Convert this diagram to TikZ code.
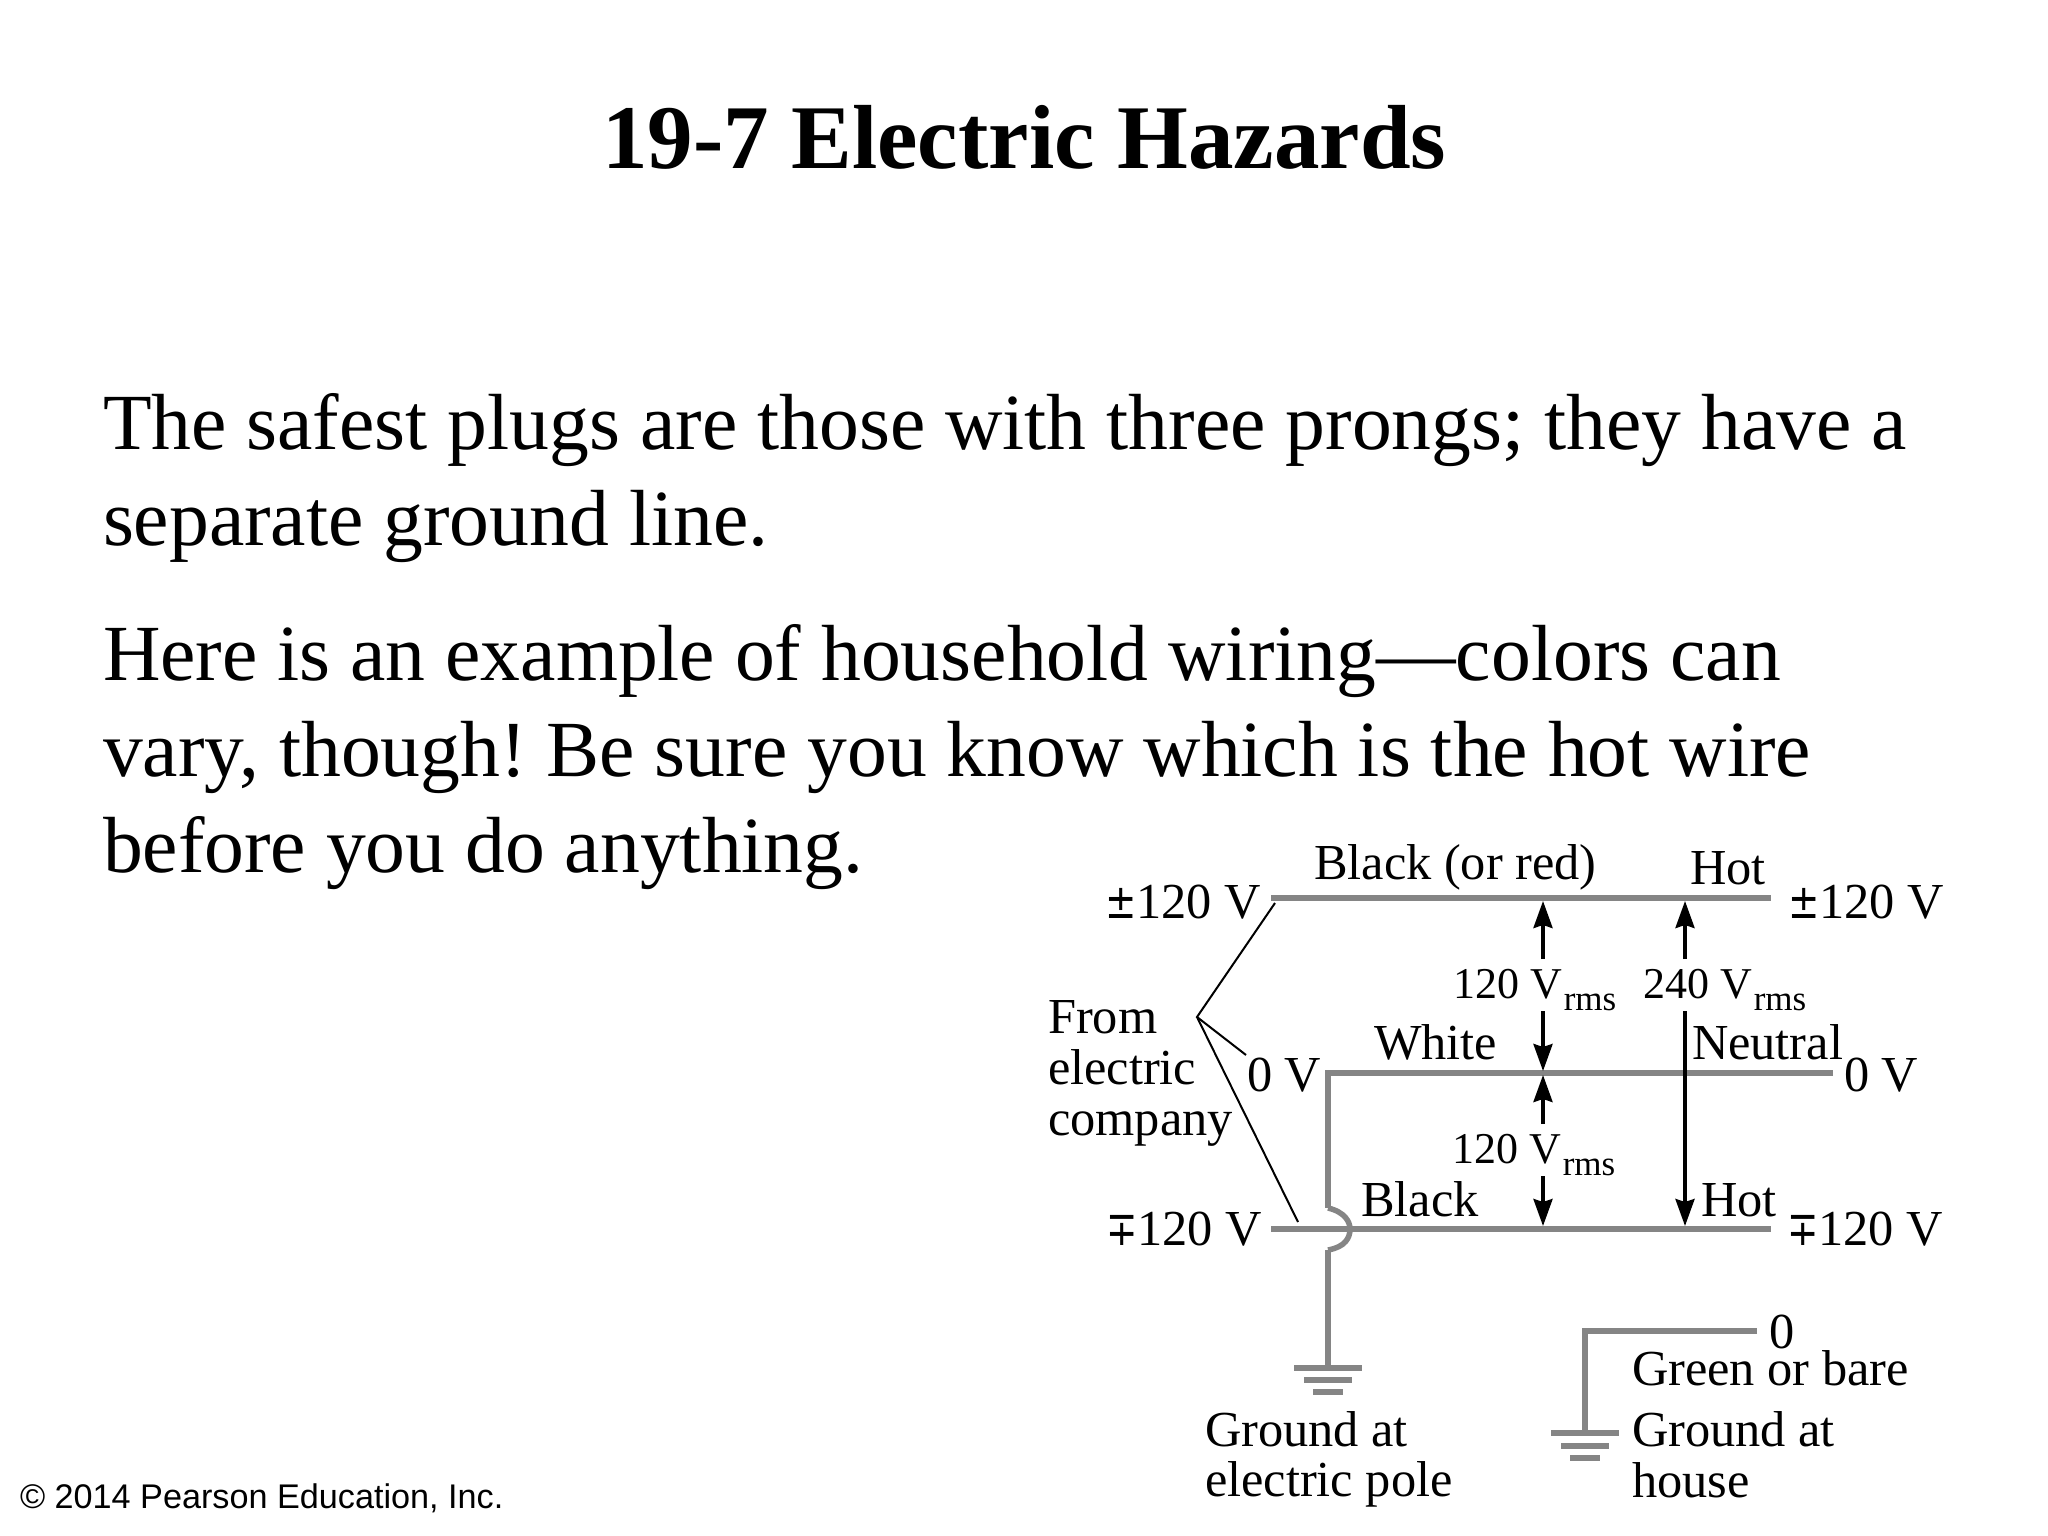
\documentclass[tikz,border=0pt]{standalone}
\usepackage{fontspec}
\setmainfont{Liberation Serif}
\newfontfamily\footfont{Liberation Sans}
\newfontfamily\signfont{DejaVu Sans}
\usetikzlibrary{arrows.meta}
\definecolor{wiregray}{HTML}{858585}
\newcommand{\vrms}[1]{{\fontsize{44}{48}\selectfont #1 V}\kern2pt\raisebox{-12pt}{\fontsize{35}{35}\selectfont rms}}
\newcommand{\sgn}[1]{\scalebox{0.78}[1]{\fontsize{48}{50}\selectfont\signfont #1}}
\tikzset{
  x=1pt,y=-1pt,
  txt/.style={anchor=base west,inner sep=0pt,outer sep=0pt},
  titletxt/.style={txt,font=\fontsize{91}{100}\selectfont\bfseries},
  bodytxt/.style={txt,font=\frenchspacing\fontsize{79.6}{90}\selectfont},
  lab/.style={txt,font=\fontsize{50.4}{55}\selectfont},
  foot/.style={txt,font=\fontsize{34.2}{36}\selectfont\footfont},
  wire/.style={draw=wiregray,line width=6pt,line cap=butt},
  thinwire/.style={draw=wiregray,line width=5.5pt},
  feed/.style={draw=black,line width=2pt},
  volt/.style={draw=black,line width=3.5pt,-{Stealth[length=27pt,width=19pt,inset=3pt]}},
}
\begin{document}
\begin{tikzpicture}
\path[use as bounding box,fill=white] (0,0) rectangle (2048,1536);
% text
\node[titletxt] (title) at (602,168) {19-7 Electric Hazards};
\node[bodytxt] (b1) at (103,449) {The safest plugs are those with three prongs; they have a};
\node[bodytxt] (b2) at (103,545) {separate ground line.};
\node[bodytxt] (b3) at (103,680) {Here is an example of household wiring—colors can};
\node[bodytxt] (b4) at (103,776) {vary, though! Be sure you know which is the hot wire};
\node[bodytxt] (b5) at (103,872) {before you do anything.};
\node[foot] (copy) at (20,1508) {© 2014 Pearson Education, Inc.};
% diagram labels
\node[lab] (tl) at (1105,918) {\sgn{±}120 V};
\node[lab] (tr) at (1788,918) {\sgn{±}120 V};
\node[lab] (blackred) at (1314,879) {Black (or red)};
\node[lab] (hot1) at (1690,884) {Hot};
\node[lab] (v1) at (1453,998) {\vrms{120}};
\node[lab] (v2) at (1643,998) {\vrms{240}};
\node[lab] (from) at (1048,1033) {From};
\node[lab] (elec) at (1048,1084) {electric};
\node[lab] (comp) at (1048,1135) {company};
\node[lab] (zl) at (1247,1091) {0 V};
\node[lab] (zr) at (1844,1091) {0 V};
\node[lab] (white) at (1374,1059) {White};
\node[lab] (neutral) at (1692,1059) {Neutral};
\node[lab] (v3) at (1452,1163) {\vrms{120}};
\node[lab] (black2) at (1361,1216) {Black};
\node[lab] (hot2) at (1701,1216) {Hot};
\node[lab] (bl) at (1106,1245) {\sgn{∓}120 V};
\node[lab] (br) at (1787,1245) {\sgn{∓}120 V};
\node[lab] (zero) at (1769,1348) {0};
\node[lab] (green) at (1632,1385) {Green or bare};
\node[lab] (gh1) at (1632,1446) {Ground at};
\node[lab] (gh2) at (1632,1497) {house};
\node[lab] (gp1) at (1205,1446) {Ground at};
\node[lab] (gp2) at (1205,1496) {electric pole};
% wires
\coordinate (t1) at (1271,898); \coordinate (t2) at (1771,898);
\coordinate (m1) at (1328,1073); \coordinate (m2) at (1833,1073);
\coordinate (l1) at (1271,1229); \coordinate (l2) at (1771,1229);
\coordinate (j1) at (1328,1208); \coordinate (j2) at (1328,1250);
\coordinate (g1) at (1328,1368);
\coordinate (h1) at (1757,1331); \coordinate (h2) at (1585,1331); \coordinate (h3) at (1585,1433);
\draw[wire] (t1) -- (t2);
\draw[wire] (l1) -- (l2);
\draw[wire,line join=miter] (m2) -- (m1) -- (j1);
\draw[thinwire] (j1) .. controls (1345,1212) and (1350,1222) .. (1350,1229) .. controls (1350,1238) and (1345,1247) .. (j2);
\draw[wire] (j2) -- (g1);
\draw[wire,line join=miter] (h1) -- (h2) -- (h3);
% ground symbols
\draw[wire] (1294,1368) -- (1362,1368);
\draw[wire] (1304,1380) -- (1352,1380);
\draw[wire] (1313,1392) -- (1343,1392);
\draw[wire] (1551,1433) -- (1619,1433);
\draw[wire] (1561,1446) -- (1609,1446);
\draw[wire] (1570,1458) -- (1600,1458);
% feed lines
\coordinate (apex) at (1197,1017);
\coordinate (f1) at (1275,903); \coordinate (f2) at (1246,1055); \coordinate (f3) at (1298,1222);
\draw[feed,line join=miter] (f1) -- (apex) -- (f2);
\draw[feed] (apex) -- (f3);
% voltage arrows
\coordinate (a1) at (1543,959); \coordinate (a1t) at (1543,901);
\coordinate (a2) at (1543,1011); \coordinate (a2t) at (1543,1071);
\coordinate (a3) at (1543,1124); \coordinate (a3t) at (1543,1075);
\coordinate (a4) at (1543,1176); \coordinate (a4t) at (1543,1226);
\coordinate (a5) at (1685,959); \coordinate (a5t) at (1685,901);
\coordinate (a6) at (1685,1011); \coordinate (a6t) at (1685,1226);
\draw[volt] (a1) -- (a1t);
\draw[volt] (a2) -- (a2t);
\draw[volt] (a3) -- (a3t);
\draw[volt] (a4) -- (a4t);
\draw[volt] (a5) -- (a5t);
\draw[volt] (a6) -- (a6t);
\end{tikzpicture}
\end{document}
